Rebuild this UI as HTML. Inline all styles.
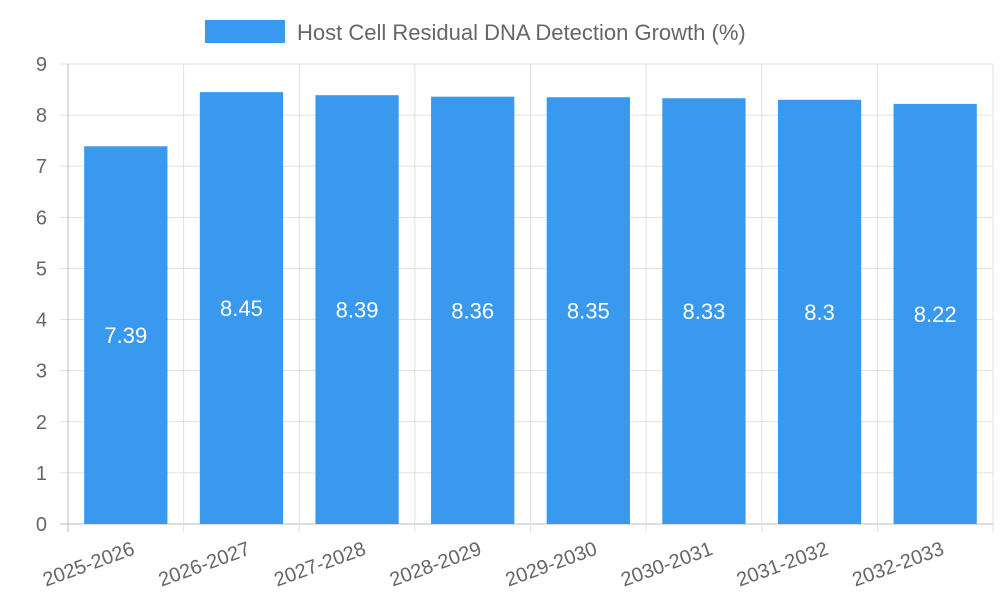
<!DOCTYPE html>
<html><head><meta charset="utf-8"><style>
body{margin:0;background:#fff;}
svg text{font-family:"Liberation Sans",sans-serif;}
</style></head><body>
<svg id="chart" width="1000" height="600" viewBox="0 0 1000 600">
<g id="legend">
<rect x="205" y="20" width="80" height="23" fill="#3899ee"></rect>
<text x="297" y="40" font-size="22" fill="#666">Host Cell Residual DNA Detection Growth (%)</text>
</g>
<g id="grid"></g><g id="bars"></g><g id="axes"></g>
</svg>
<script>
const categories=["2025-2026","2026-2027","2027-2028","2028-2029","2029-2030","2030-2031","2031-2032","2032-2033"];
const values=[7.39,8.45,8.39,8.36,8.35,8.33,8.3,8.22];
const yTicks=[0,1,2,3,4,5,6,7,8,9];
const NS="http://www.w3.org/2000/svg";
const L=68,R=993,T=64,B=524,yMax=9;
const y=v=>B-(v/yMax)*(B-T);
const bw=(R-L)/categories.length;
const x=i=>L+bw*i;
function mk(tag,attrs,parent){const e=document.createElementNS(NS,tag);for(const k in attrs)e.setAttribute(k,attrs[k]);parent.appendChild(e);return e;}
const grid=document.getElementById('grid'),bars=document.getElementById('bars'),axes=document.getElementById('axes');
yTicks.forEach(t=>{
  const g=mk('line',{x1:60,x2:R,y1:y(t),y2:y(t),stroke:t===0?'#bbb':'#e0e0e0','stroke-width':1},grid);
  
  
  const tx=mk('text',{x:47,y:y(t)+7,'font-size':20,fill:'#666','text-anchor':'end'},axes);
  tx.textContent=t;
  
  
});
for(let i=0;i<=categories.length;i++){
  const g=mk('line',{x1:x(i),x2:x(i),y1:T,y2:B+8,stroke:i===0?'#bbb':'#e0e0e0','stroke-width':1},grid);
  
  
}
categories.forEach((c,i)=>{
  const w=bw*0.72,cx=x(i)+bw/2;
  const r=mk('rect',{x:cx-w/2,y:y(values[i]),width:w,height:B-y(values[i]),fill:'#3899ee'},bars);
  
  
  const vt=mk('text',{x:cx,y:(y(values[i])+B)/2+8,'font-size':22,fill:'#fff','text-anchor':'middle'},bars);
  vt.textContent=values[i];
  
  
  const lt=mk('text',{x:cx+10,y:B+30,'font-size':20,fill:'#666','text-anchor':'end',transform:`rotate(-20 ${cx+10} ${B+30})`},axes);
  lt.textContent=c;
  
  
});
</script>
</body></html>
